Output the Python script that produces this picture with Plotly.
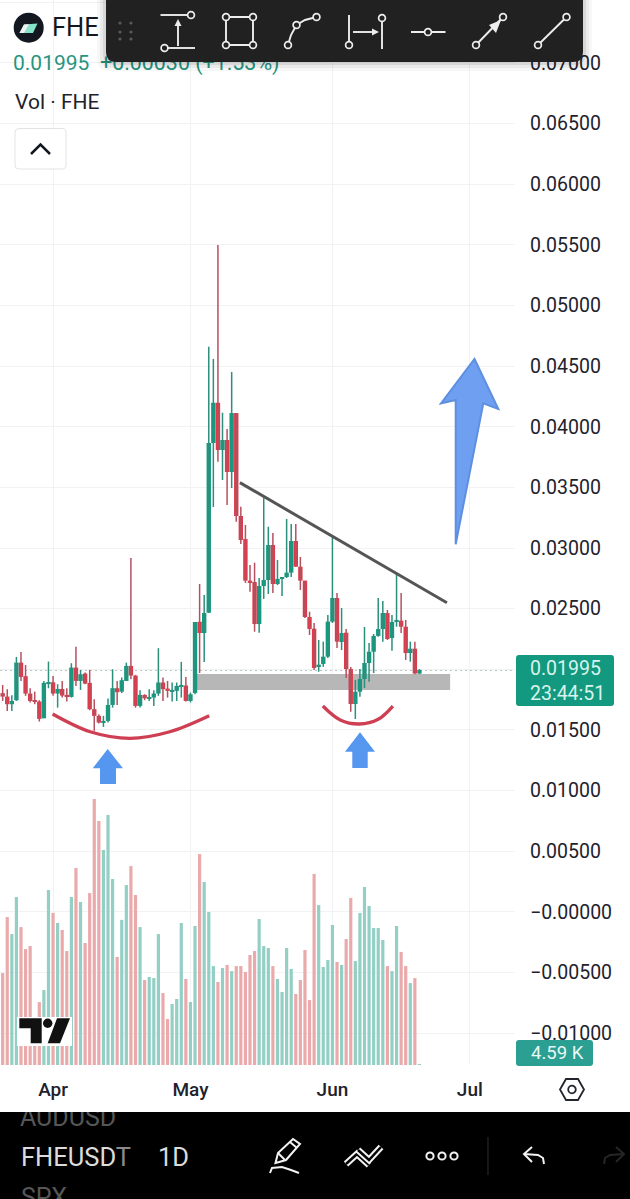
import pandas as pd
import plotly.graph_objects as go

# Daily FHE/USDT candles, first session 21 March
start_date = "2025-03-21"
opens = [.01803,.01775,.01712,.01745,.02055,.01943,.01800,.01745,.01734,.01596,.01882,.01893,.01800,.01838,.01789,.01772,.02014,.01904,.01965,.01888,.01671,.01616,.01561,.01574,.01706,.01844,.01816,.01904,.02028,.01948,.01698,.01789,.01761,.01767,.01800,.01891,.01841,.01816,.01822,.01860,.01866,.01739,.01805,.02392,.02299,.02467,.03866,.04198,.03808,.03891,.03627,.04113,.03264,.03074,.02731,.02720,.02373,.02687,.02736,.03025,.02703,.02745,.02761,.02797,.03058,.02846,.02731,.02431,.02335,.02019,.02044,.02104,.02393,.02588,.02225,.02302,.02002,.01714,.01815,.01920,.02052,.02145,.02275,.02332,.02464,.02258,.02393,.02401,.02351,.02134,.02170,.01965]
highs = [.01871,.01836,.01786,.02102,.02143,.02036,.01844,.01816,.01745,.01904,.02064,.01945,.01877,.01904,.01844,.02050,.02185,.01995,.01973,.01995,.01753,.01629,.01616,.01759,.02000,.01904,.01932,.02055,.02918,.01954,.01827,.01794,.01836,.01827,.02174,.01932,.01904,.01891,.01891,.02061,.01937,.01808,.02390,.02703,.02613,.04660,.04559,.05499,.04116,.03981,.04451,.04113,.03341,.03190,.02860,.02879,.02753,.03412,.03176,.03124,.02901,.02761,.03239,.03198,.03198,.02926,.02731,.02475,.02382,.02242,.02228,.02448,.03091,.02629,.02505,.02332,.02019,.01912,.02002,.02349,.02217,.02291,.02588,.02563,.02489,.02448,.02786,.02629,.02407,.02228,.02228,.02002]
lows = [.01739,.01657,.01657,.01739,.01904,.01781,.01726,.01712,.01569,.01596,.01844,.01781,.01684,.01767,.01734,.01767,.01863,.01830,.01877,.01662,.01492,.01552,.01525,.01561,.01684,.01706,.01805,.01904,.01918,.01684,.01684,.01745,.01739,.01698,.01781,.01739,.01767,.01734,.01739,.01767,.01734,.01726,.01794,.01969,.02060,.02464,.03338,.03712,.03561,.03355,.03495,.03217,.03033,.02712,.02640,.02310,.02302,.02580,.02621,.02629,.02695,.02604,.02753,.02761,.02844,.02654,.02423,.02283,.01994,.01980,.02021,.02093,.02382,.02176,.02159,.01928,.01650,.01590,.01774,.01846,.01898,.01969,.02269,.02228,.02242,.02153,.02351,.02299,.02077,.02063,.01960,.01960]
closes = [.01775,.01712,.01739,.02055,.01937,.01800,.01739,.01731,.01591,.01888,.01893,.01800,.01838,.01783,.01775,.02014,.01904,.01959,.01882,.01671,.01616,.01561,.01574,.01706,.01844,.01811,.01910,.02028,.01948,.01698,.01789,.01761,.01772,.01800,.01891,.01836,.01822,.01830,.01863,.01871,.01739,.01794,.02390,.02299,.02464,.03866,.04198,.03808,.03891,.03627,.04113,.03264,.03066,.02731,.02712,.02373,.02687,.02736,.03025,.02703,.02745,.02761,.02797,.03058,.02846,.02731,.02431,.02332,.02011,.02038,.02104,.02393,.02588,.02228,.02299,.02002,.01714,.01815,.01920,.02052,.02145,.02275,.02332,.02464,.02250,.02390,.02407,.02351,.02134,.02170,.01965,.01995]
# Volume in thousands of FHE
volumes_k = [422,679,601,771,633,532,546,207,289,344,803,698,652,620,523,771,904,748,560,789,1221,1120,987,1148,854,496,666,826,913,780,633,390,404,399,601,330,211,280,303,652,395,289,638,968,840,702,454,381,445,459,431,454,454,427,505,523,670,546,537,454,395,335,537,441,326,390,528,298,877,734,450,482,643,473,459,578,767,477,698,817,730,629,629,574,454,431,638,519,454,376,399,4.59]

price_ticks = [.075,.07,.065,.06,.055,.05,.045,.04,.035,.03,.025,.02,.015,.01,.005,0,-.005,-.01]
price_tick_labels = ["0.07500","0.07000","0.06500","0.06000","0.05500","0.05000","0.04500","0.04000","0.03500","0.03000","0.02500","0.02000","0.01500","0.01000","0.00500","−0.00000","−0.00500","−0.01000"]
month_ticks = ["2025-04-01","2025-05-01","2025-06-01","2025-07-01"]
month_labels = ["Apr","May","Jun","Jul"]

last_price = 0.01995

# Drawn analysis: days are counted from the first session
support_days = [42.4, 97.7]
support_prices = [.01961, .01829]
trend_days = [51.8, 97.0]
trend_prices = [.03539, .02549]
arc1_days = [10.9, 19.1, 27.8, 36.5, 45.1]
arc1_prices = [.01631, .01485, .01431, .01485, .01617]
arc2_days = [69.9, 73.7, 77.9, 82.0, 85.2]
arc2_prices = [.01697, .01582, .01549, .01588, .01697]

UP, DOWN = "#159a80", "#dc3b4c"
UP_WICK, DOWN_WICK = "#2c8f7c", "#b4515f"
UP_VOL, DOWN_VOL = "#93cfc4", "#eaa9aa"
FONT = "Roboto"

# Canvas layout
W, H = 630, 1199
PLOT_W, PLOT_H = 515, 1065
PX_PER_DAY = 4.58
FIRST_BAR_PX = 2.67
Y_TOP, Y_BOTTOM = 0.07519, -0.01263

t0 = pd.Timestamp(start_date)
def day(d):
    return t0 + pd.Timedelta(days=d)
dates = [day(i) for i in range(len(opens))]
x_range = [day(-FIRST_BAR_PX / PX_PER_DAY), day((PLOT_W - FIRST_BAR_PX) / PX_PER_DAY)]

def data_x(px):
    return day((px - FIRST_BAR_PX) / PX_PER_DAY)
def data_y(py):
    return Y_TOP - py * (Y_TOP - Y_BOTTOM) / PLOT_H
def fx(px):
    return px / PLOT_W
def fy(py):
    return 1 - py / PLOT_H

def path(points, close=False):
    d = "M " + " L ".join(f"{fx(x):.5f} {fy(y):.5f}" for x, y in points)
    return d + (" Z" if close else "")

def rounded(x0, y0, x1, y1, r):
    def p(x, y):
        return f"{fx(x):.5f} {fy(y):.5f}"
    return (f"M {p(x0+r,y0)} L {p(x1-r,y0)} Q {p(x1,y0)} {p(x1,y0+r)} L {p(x1,y1-r)} Q {p(x1,y1)} {p(x1-r,y1)} "
            f"L {p(x0+r,y1)} Q {p(x0,y1)} {p(x0,y1-r)} L {p(x0,y0+r)} Q {p(x0,y0)} {p(x0+r,y0)} Z")

shapes, annotations = [], []

def add_path(d, fill=None, line=None, width=0, layer="above", opacity=1):
    shapes.append(dict(type="path", xref="paper", yref="paper", path=d, layer=layer, opacity=opacity,
                       fillcolor=fill or "rgba(0,0,0,0)",
                       line=dict(color=line or "rgba(0,0,0,0)", width=width)))

def add_circle(cx, cy, r, fill=None, line=None, width=0, layer="above"):
    shapes.append(dict(type="circle", xref="paper", yref="paper", layer=layer,
                       x0=fx(cx - r), x1=fx(cx + r), y0=fy(cy + r), y1=fy(cy - r),
                       fillcolor=fill or "rgba(0,0,0,0)",
                       line=dict(color=line or "rgba(0,0,0,0)", width=width)))

def add_text(px, py, text, size, color, anchor="left", weight=None):
    annotations.append(dict(xref="paper", yref="paper", x=fx(px), y=fy(py), text=text, showarrow=False,
                            xanchor=anchor, yanchor="middle", borderpad=0,
                            font=dict(family=FONT, size=size, color=color, weight=weight)))

def add_boxed_text(px, top, box_w, box_h, text, size, color):
    # The fixed box clips whatever part of the line rises above its top edge
    annotations.append(dict(xref="paper", yref="paper", x=fx(px), y=fy(top), text=text, showarrow=False,
                            xanchor="left", yanchor="top", width=box_w, height=box_h, align="left",
                            valign="bottom", borderpad=0, borderwidth=0,
                            font=dict(family=FONT, size=size, color=color)))

fig = go.Figure()

# Volume pane
vol_colors = [UP_VOL if c >= o else DOWN_VOL for o, c in zip(opens, closes)]
fig.add_bar(x=dates, y=volumes_k, yaxis="y2", marker=dict(color=vol_colors, line_width=0),
            width=3.2 / PX_PER_DAY * 86400000, hoverinfo="skip", showlegend=False)

# Candle wicks, then bodies
for is_up, color in ((True, UP_WICK), (False, DOWN_WICK)):
    xs, ys = [], []
    for d, o, h, l, c in zip(dates, opens, highs, lows, closes):
        if (c >= o) == is_up:
            xs += [d, d, None]
            ys += [l, h, None]
    fig.add_scatter(x=xs, y=ys, mode="lines", line=dict(color=color, width=1.5),
                    hoverinfo="skip", showlegend=False)

fig.add_bar(x=dates, y=[abs(c - o) for o, c in zip(opens, closes)],
            base=[min(o, c) for o, c in zip(opens, closes)],
            marker=dict(color=[UP if c >= o else DOWN for o, c in zip(opens, closes)], line_width=0),
            width=4.4 / PX_PER_DAY * 86400000, hoverinfo="skip", showlegend=False)

# Hand-drawn curves beneath the two lows
for days, prices in ((arc1_days, arc1_prices), (arc2_days, arc2_prices)):
    fig.add_scatter(x=[day(d) for d in days], y=prices, mode="lines",
                    line=dict(color="#cf3f54", width=3.3, shape="spline", smoothing=1),
                    hoverinfo="skip", showlegend=False)

# Trendline over the lower highs
fig.add_scatter(x=[day(d) for d in trend_days], y=trend_prices, mode="lines",
                line=dict(color="#555555", width=3), hoverinfo="skip", showlegend=False)

# Header line that the floating toolbar partly covers
def under_text(px, py, text, size, color, weight=None):
    fig.add_scatter(x=[data_x(px)], y=[data_y(py)], mode="text", text=[text], textposition="middle right",
                    textfont=dict(family=FONT, size=size, color=color, weight=weight),
                    cliponaxis=False, hoverinfo="skip", showlegend=False)

under_text(13, 65, "0.01995", 21, "#27957f")
under_text(100, 65, "+0.00030 (+1.53%)", 21.4, "#27957f")

# Support zone and last-price line
shapes.append(dict(type="rect", xref="x", yref="y", layer="between", x0=day(support_days[0]), x1=day(support_days[1]),
                   y0=support_prices[0], y1=support_prices[1], fillcolor="#b7b7b7", line_width=0))
shapes.append(dict(type="line", xref="paper", yref="y", layer="between", x0=0, x1=1, y0=last_price, y1=last_price,
                   line=dict(color="#4a7468", width=1, dash="2px,3px")))

# Blue arrows
BLUE = "#5596ef"
add_path(path([(107.7,749),(123,768.3),(116,768.3),(116,784),(100,784),(100,768.3),(92.7,768.3)], True), fill=BLUE)
add_path(path([(360,732.3),(375,751.7),(367.7,751.7),(367.7,768),(352.3,768),(352.3,751.7),(345,751.7)], True), fill=BLUE)
add_path(path([(474.5,359),(498.3,409),(483.3,403.3),(455.7,544.3),(455.7,400),(441,403.3)], True),
         fill="#6f9ff0", line="#5f8fe0", width=2)

# Footer bar with the scrolling symbol list
add_path(rounded(-1, 1112, 632, 1200, 0), fill="#000000", layer="below")
add_boxed_text(20, 1112, 130, 20, "AUDUSD", 25, "#565656")
add_text(20, 1157, "FHEUSD<span style='color:#8a8a8a'>T</span>", 25.5, "#dcdcdc")
add_text(157, 1157, "1D", 25.5, "#dcdcdc")
add_text(20, 1197, "SPX", 25, "#565656")
WHITE = "#f2f2f2"
add_path(path([(275.5,1163),(278,1153),(293,1139),(300,1144),(286,1160)], True), line=WHITE, width=2)
add_path(path([(278,1153),(285,1160)]), line=WHITE, width=2)
add_path(path([(290,1142),(297,1148)]), line=WHITE, width=2)
add_path(path([(270,1173),(272,1168),(282,1167),(291,1170),(299,1173)]), line=WHITE, width=2)
for pts in ([(346,1164),(357,1154),(369,1165)], [(358,1150),(369,1160),(381,1147)]):
    add_path(path(pts), line=WHITE, width=6.5)
    add_path(path(pts), line="#000000", width=2.5)
for cx in (430, 442, 454):
    add_circle(cx, 1156, 3.6, line=WHITE, width=2)
add_path(path([(488,1137),(488,1175)]), line="#2e2e2e", width=1)
add_path(path([(544,1164),(543,1158),(538,1155),(524,1154)]), line=WHITE, width=2)
add_path(path([(532,1147),(524,1154),(532,1162)]), line=WHITE, width=2)
add_path(path([(604,1164),(605,1158),(610,1155),(624,1154)]), line="#262626", width=2)
add_path(path([(616,1147),(624,1154),(616,1162)]), line="#262626", width=2)

# Chart settings hexagon
add_path(path([(560,1089.5),(566,1079),(578,1079),(584,1089.5),(578,1100),(566,1100)], True), fill="#ffffff", line="#22252c", width=1.8)
add_circle(572, 1089.5, 3.8, line="#22252c", width=1.8)

# Price and volume badges
add_path(rounded(516, 655, 614, 706, 3), fill="#12997f")
add_text(529, 668, "0.01995", 19.5, "#d8f4ec")
add_text(529, 693, "23:44:51", 19.5, "#d8f4ec")
add_path(rounded(516, 1040, 593, 1066, 3), fill="#2b9f92")
add_text(530, 1053, "4.59 K", 18.5, "#e9f8f5")

# Watermark
add_path(path([(17,1017),(72,1017),(72,1046),(17,1046)], True), fill="#ffffff")
add_path(path([(19.3,1018.3),(41.7,1018.3),(41.7,1043.3),(30.7,1043.3),(30.7,1028.3),(19.3,1028.3)], True), fill="#111111")
add_circle(47.7, 1023.3, 4.7, fill="#111111")
add_path(path([(57,1018.3),(70,1018.3),(60,1043.3),(47.7,1043.3)], True), fill="#111111")

# Symbol header
add_circle(28.7, 27.7, 15, fill="#13171f")
add_path(path([(19.5,33),(24,24.5),(37.5,23.5),(33,33)], True), fill="#84e3c8")
add_path(path([(19.5,33),(24,24.5),(29,24.2),(24,33)], True), fill="#f2f2f2")
add_text(50.5, 27, "FHE", 25.5, "#131722")
add_text(14, 102, "Vol · FHE", 21, "#1e222d")
add_path(rounded(15, 128.5, 66, 169, 4), fill="#ffffff", line="#e3e3e3", width=1)
add_path(path([(31,154),(40.5,144.5),(50,154)]), line="#131722", width=2.5)

# Floating drawing toolbar with a soft shadow
TB = "#212121"
for grow, alpha in ((9, .03), (6, .05), (3, .08)):
    add_path(rounded(106 - grow, -10, 583 + grow, 62 + grow, 12), fill=f"rgba(0,0,0,{alpha})")
add_path(rounded(106, -10, 583, 62, 10), fill=TB)
for gx in (120, 131):
    for gy in (23, 32, 39):
        add_circle(gx, gy, 1.6, fill="#595959")

ICON = "#ededed"
def node(cx, cy):
    add_circle(cx, cy, 3.4, fill=TB, line=ICON, width=1.7)
def stroke(pts, width=1.9):
    add_path(path(pts), line=ICON, width=width)

stroke([(160.5,15),(188,15)]); node(191,15)
stroke([(168,48),(195,48)]); node(164.5,48)
stroke([(178,24),(178,46)])
add_path(path([(178,19),(181.5,26),(174.5,26)], True), fill=ICON)
stroke([(226,17),(253,17),(253,45),(226,45),(226,17)])
for c in ((226,17),(253,17),(226,45),(253,45)):
    node(*c)
stroke([(288,45),(291,35),(296.5,25),(305,20),(316.5,17)])
for c in ((288,45),(296.5,25),(316.5,17)):
    node(*c)
stroke([(349,15),(349,45)]); node(349,45)
stroke([(382,20),(382,49)]); node(382,18)
stroke([(353,32),(374,32)])
add_path(path([(379,32),(372,28.5),(372,35.5)], True), fill=ICON)
stroke([(411,32),(445.5,32)]); node(428,32)
stroke([(476,45),(503,17)])
add_path(path([(501,20),(489,25),(496,33)], True), fill=ICON)
node(476,45); node(503,17)
stroke([(538,45),(566.5,17)])
node(538,45); node(566.5,17)

grid = dict(showgrid=True, gridcolor="#f0f2f4", gridwidth=1, zeroline=False, showline=False)
fig.update_layout(
    width=W, height=H, margin=dict(l=0, r=W - PLOT_W, t=0, b=H - PLOT_H, pad=0),
    paper_bgcolor="#ffffff", plot_bgcolor="rgba(0,0,0,0)", barmode="overlay", showlegend=False,
    shapes=shapes, annotations=annotations,
    xaxis=dict(type="date", range=x_range, tickvals=month_ticks, ticktext=month_labels, tickmode="array",
               ticks="", ticklabelstandoff=11, tickfont=dict(family=FONT, size=19, color="#1e222d", weight=500), **grid),
    yaxis=dict(range=[Y_BOTTOM, Y_TOP], side="right", tickmode="array", tickvals=price_ticks,
               ticktext=price_tick_labels, ticks="", ticklabelstandoff=14,
               tickfont=dict(family=FONT, size=19.5, color="#1e222d"), **grid),
    yaxis2=dict(overlaying="y", range=[0, PLOT_H * 4.59], visible=False, showgrid=False),
)

fig.write_html("out.html", config=dict(displayModeBar=False))
